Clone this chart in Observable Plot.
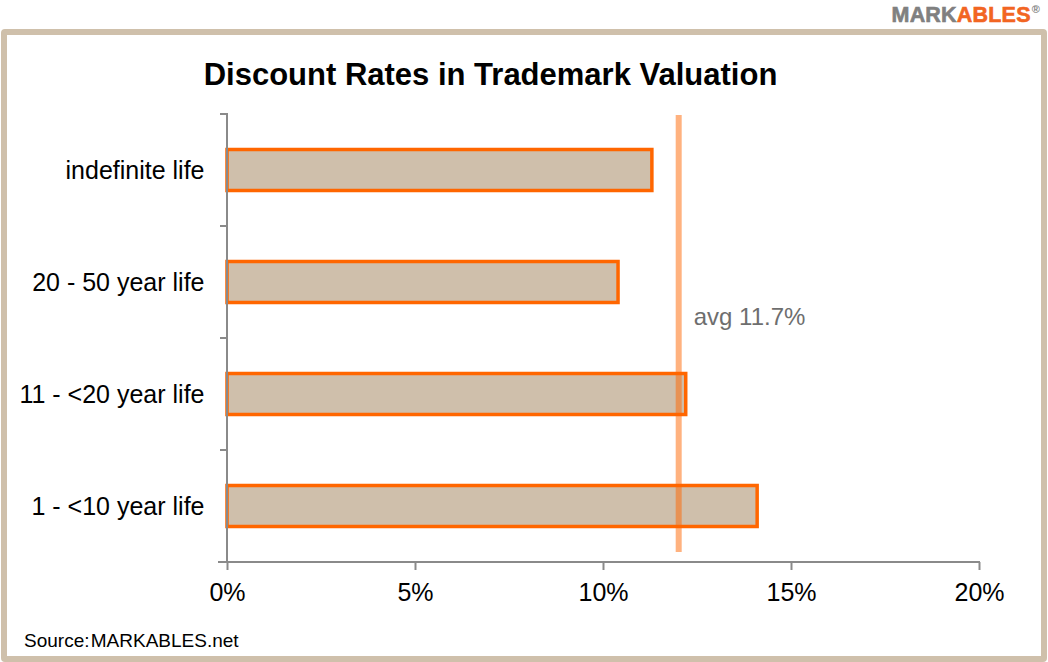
<!DOCTYPE html>
<html>
<head>
<meta charset="utf-8">
<script src="https://cdn.jsdelivr.net/npm/d3@7"></script>
<script src="https://cdn.jsdelivr.net/npm/@observablehq/plot@0.6"></script>
<style>
  html, body { margin: 0; padding: 0; background: #fff; }
  #wrap { position: relative; width: 1048px; height: 662px; overflow: hidden; font-family: "Liberation Sans", Arial, sans-serif; }
  #frame { position: absolute; left: 1px; top: 29px; width: 1046px; height: 633px; box-sizing: border-box; border: 6px solid #cfc0ab; border-radius: 4px; }
  #logo { position: absolute; right: 8px; top: 3px; font-weight: bold; font-size: 21.5px; letter-spacing: 0.2px; -webkit-text-stroke: 0.6px; }
  #logo .a { color: #808080; -webkit-text-stroke-color: #808080; }
  #logo .b { color: #f26522; -webkit-text-stroke-color: #f26522; }
  #logo sup { color: #808080; font-size: 11px; vertical-align: 9px; margin-left: 1px; -webkit-text-stroke: 0; }
  #title { position: absolute; left: 0; width: 981px; text-align: center; top: 57px; font-weight: bold; font-size: 31px; color: #000; }
  #source { position: absolute; left: 24px; top: 630px; font-size: 19px; color: #000; word-spacing: -4px; }
  #chart { position: absolute; left: 0; top: 0; }
</style>
</head>
<body>
<div id="wrap">
  <div id="chart"></div>
  <div id="frame"></div>
  <div id="logo"><span class="a">MARK</span><span class="b">ABLES</span><sup>®</sup></div>
  <div id="title">Discount Rates in Trademark Valuation</div>
  <div id="source">Source: MARKABLES.net</div>
</div>
<script>
// ---- data ----
const categories = ["indefinite life", "20 - 50 year life", "11 - <20 year life", "1 - <10 year life"];
const rates = [11.3, 10.4, 12.2, 14.1];
const xTicks = [0, 5, 10, 15, 20];
const avgPosition = 12.0;
const avgLabel = "avg 11.7%";

const data = categories.map((c, i) => ({category: c, value: rates[i]}));

function axesMark(index, scales, values, dims) {
  const x = scales.x, y = scales.y;
  const g = d3.create("svg:g").attr("stroke", "#8a8a8a").attr("stroke-width", 2).attr("fill", "none");
  const x0 = x(0), x1 = x(xTicks[xTicks.length - 1]);
  const top = dims.marginTop, bottom = dims.height - dims.marginBottom;
  const bw = (y.bandwidth ? y.bandwidth() : (bottom - top) / categories.length);
  const bounds = categories.map(c => y(c)).concat([y(categories[categories.length - 1]) + bw]);
  g.append("line").attr("x1", x0).attr("x2", x0).attr("y1", top).attr("y2", bottom);
  bounds.forEach(b => {
    g.append("line").attr("x1", x0 - 7).attr("x2", x0).attr("y1", b).attr("y2", b);
  });
  g.append("line").attr("x1", x0 - 9).attr("x2", x1 + 1).attr("y1", bottom).attr("y2", bottom);
  return g.node();
}

const chart = Plot.plot({
  width: 1048,
  height: 662,
  marginLeft: 227,
  marginRight: 69,
  marginTop: 113,
  marginBottom: 100,
  style: {fontFamily: "'Liberation Sans', Arial, sans-serif", fontSize: "25px", color: "#000", background: "transparent", overflow: "visible"},
  x: {domain: [0, 20], ticks: xTicks, label: null},
  y: {domain: categories, padding: 0, label: null},
  marks: [
    Plot.barX(data, {x: "value", y: "category", fill: "#cfbfab", stroke: "#ff6600", strokeWidth: 3.5, insetTop: 35.5, insetBottom: 35.5}),
    axesMark,
    Plot.ruleX([avgPosition], {stroke: "#ff6600", strokeOpacity: 0.5, strokeWidth: 6, insetTop: 2, insetBottom: 10}),
    Plot.text([avgLabel], {x: () => avgPosition, y: () => categories[1], text: d => d, dx: 15, dy: 35, textAnchor: "start", fill: "#6e6e6e", fontSize: 24}),
    Plot.axisX({ticks: xTicks, label: null, tickSize: 8, tickPadding: 13, tickFormat: d => d + "%", stroke: "#8a8a8a", strokeWidth: 2, fontSize: 25, fill: "#000"}),
    Plot.axisY({label: null, tickSize: 0, tickPadding: 23, fontSize: 25, fill: "#000"})
  ]
});
document.getElementById("chart").appendChild(chart);
</script>
</body>
</html>
